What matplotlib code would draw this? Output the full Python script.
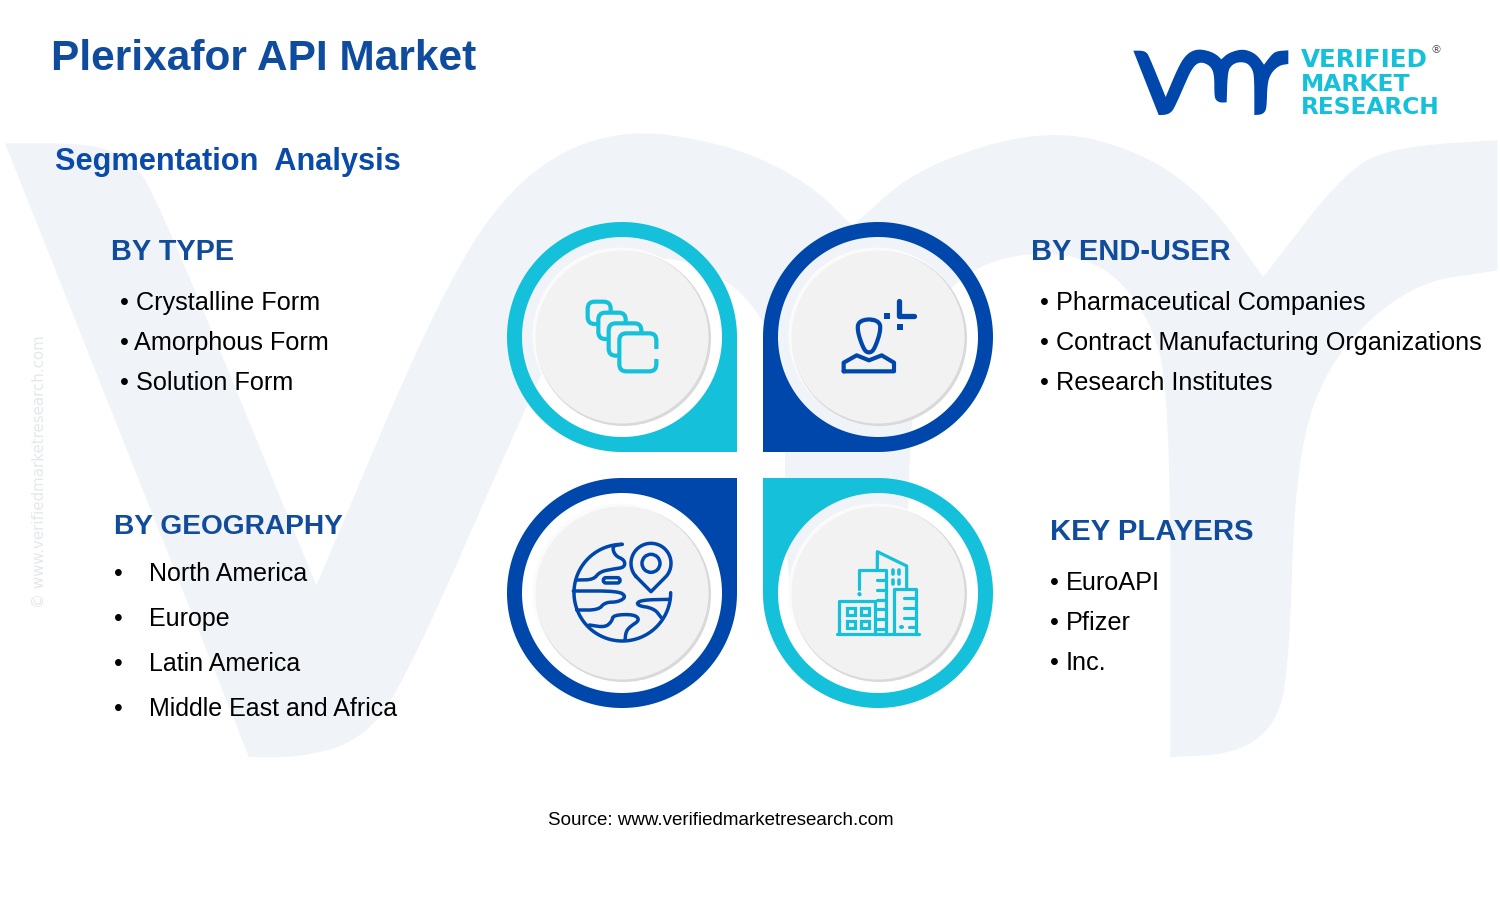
import numpy as np
import matplotlib
matplotlib.use("Agg")
import matplotlib.pyplot as plt
from matplotlib.path import Path
from matplotlib.patches import PathPatch, Circle, FancyBboxPatch, Polygon, Rectangle
from matplotlib.textpath import TextPath
from matplotlib.font_manager import FontProperties

# ---------- content ----------
TITLE = "Plerixafor API Market"
SUBTITLE = "Segmentation  Analysis"
SOURCE = "Source: www.verifiedmarketresearch.com"
COPYRIGHT = "© www.verifiedmarketresearch.com"
LOGO_LINES = ["VERIFIED", "MARKET", "RESEARCH"]
HEAD_TYPE = "BY TYPE"
HEAD_USER = "BY END-USER"
HEAD_GEO = "BY GEOGRAPHY"
HEAD_KEY = "KEY PLAYERS"
ITEMS_TYPE = ["Crystalline Form", "Amorphous Form", "Solution Form"]
ITEMS_USER = ["Pharmaceutical Companies", "Contract Manufacturing Organizations", "Research Institutes"]
ITEMS_GEO = ["North America", "Europe", "Latin America", "Middle East and Africa"]
ITEMS_KEY = ["EuroAPI", "Pfizer", "Inc."]

TEAL = "#14c0da"
BLUE = "#0047ab"
HEAD = "#114c9c"
PALE = "#f0f4f9"
GREY = "#f2f2f2"

fig = plt.figure(figsize=(15, 9.11), dpi=100, facecolor="white")
ax = fig.add_axes([0, 0, 1, 1])
ax.set_xlim(0, 1500)
ax.set_ylim(911, 0)
ax.axis("off")

SANS = "Liberation Sans"


def fit(s, px, weight="normal", family=SANS):
    fp = FontProperties(family=family, weight=weight)
    w = TextPath((0, 0), s, size=100, prop=fp).get_extents().width
    return 100 * px / w * 0.72


def chaikin(pts, n=2, closed=False):
    p = np.array(pts, float)
    for _ in range(n):
        q = np.roll(p, -1, axis=0) if closed else p[1:]
        a = p if closed else p[:-1]
        left = 0.75 * a + 0.25 * q
        right = 0.25 * a + 0.75 * q
        m = np.empty((len(a) * 2, 2))
        m[0::2], m[1::2] = left, right
        if not closed:
            m = np.vstack([p[0], m, p[-1]])
        p = m
    return p


# ---------- vmr mark (shared by the watermark and the logo), split at its sharp corners ----------
MARK_SECTIONS = [
    [(25, 32), (52, 32), (64, 37), (72, 48), (122, 171)],
    [(122, 171), (161, 78), (185, 42), (215, 27), (250, 32), (275, 44), (289, 58)],
    [(289, 58), (310, 39), (350, 27), (380, 35), (400, 50), (417, 74)],
    [(417, 74), (443, 40), (459, 33), (490, 31)],
    [(490, 31), (490, 72)],
    [(490, 72), (463, 76), (438, 99), (427, 131), (425, 200), (420, 216), (408, 224), (388, 225)],
    [(388, 225), (388, 110), (381, 85), (365, 68), (340, 66), (320, 75), (308, 95), (305, 187)],
    [(305, 187), (285, 188), (272, 180), (268, 165), (268, 105), (258, 80), (235, 67), (215, 70),
     (198, 92), (185, 120), (148, 205), (135, 220), (118, 225), (101, 225)],
    [(101, 225), (25, 32)],
]
mark = np.vstack([chaikin(sec, 3) for sec in MARK_SECTIONS])
wm = np.c_[5 + (mark[:, 0] - 25) * 3.21, 137 + (mark[:, 1] - 30) * 3.18]
ax.add_patch(Polygon(wm, closed=True, fc=PALE, ec="none", zorder=1))
lg = np.c_[1125 + mark[:, 0] / 3, 40 + mark[:, 1] / 3]
ax.add_patch(Polygon(lg, closed=True, fc=BLUE, ec="none", zorder=3))

logo_w = [126, 107, 135]
logo_y = [67, 91, 114]
for s, w, y in zip(LOGO_LINES, logo_w, logo_y):
    ax.text(1301, y, s, fontsize=fit(s, w, "bold", "DejaVu Sans"), family="DejaVu Sans", weight="bold",
            color=TEAL, va="baseline", ha="left", zorder=4)
ax.text(1436, 50, "®", fontsize=8, color="#555555", ha="center", va="center", zorder=4)


# ---------- pins ----------
def pin(cx, cy, sx, sy, color):
    R, r = 115, 100
    start = {(1, 1): 90, (-1, 1): 180, (-1, -1): 270, (1, -1): 0}[(sx, sy)]
    t = np.radians(np.linspace(start, start + 270, 240))
    outer = np.c_[cx + R * np.cos(t), cy + R * np.sin(t)]
    outer = np.vstack([outer, [cx + sx * R, cy + sy * R], outer[0]])
    t2 = np.radians(np.linspace(360, 0, 240))
    inner = np.c_[cx + r * np.cos(t2), cy + r * np.sin(t2)]
    verts = np.vstack([outer, inner])
    codes = ([Path.MOVETO] + [Path.LINETO] * (len(outer) - 1)
             + [Path.MOVETO] + [Path.LINETO] * (len(inner) - 1))
    ax.add_patch(PathPatch(Path(verts, codes), fc=color, ec="none", zorder=3))
    ax.add_patch(Circle((cx - 1.5, cy - 1.5), 88, fc="#fbfbfb", ec="none", zorder=3))
    ax.add_patch(Circle((cx + 1.5, cy + 1.5), 87.5, fc="#d9d9d9", ec="none", zorder=3))
    ax.add_patch(Circle((cx, cy), 86.5, fc=GREY, ec="none", zorder=3))


pin(622, 337, 1, 1, TEAL)
pin(878, 337, -1, 1, BLUE)
pin(622, 593, 1, -1, BLUE)
pin(878, 593, -1, -1, TEAL)


def stroke(pts, ox, oy, color, lw, closed=False, smooth=0):
    p = np.array(pts, float)
    if smooth:
        p = chaikin(p, smooth, closed=closed)
    p = np.c_[ox + p[:, 0] / 3, oy + p[:, 1] / 3]
    if closed:
        p = np.vstack([p, p[0]])
    ax.plot(p[:, 0], p[:, 1], color=color, lw=lw, solid_capstyle="round",
            solid_joinstyle="round", zorder=5)


# ---------- icon 1: stacked rounded squares ----------
ox, oy = 490, 210
for x0, y0, x1, y1 in [(293, 275, 362, 342), (325, 308, 407, 387), (356, 340, 454, 437), (388, 370, 499, 484)]:
    ax.add_patch(FancyBboxPatch((ox + x0 / 3, oy + y0 / 3), (x1 - x0) / 3, (y1 - y0) / 3,
                                boxstyle="round,pad=0,rounding_size=7", fc=GREY, ec=TEAL,
                                lw=3.0, zorder=5))
ax.add_patch(Rectangle((ox + 488 / 3, oy + 418 / 3), 8, 28 / 3, fc=GREY, ec="none", zorder=6))

# ---------- icon 2: person ----------
ox, oy = 750, 210
stroke([(357, 326), (390, 336), (391, 365), (378, 405), (366, 427), (348, 427), (336, 405),
        (323, 365), (324, 336)], ox, oy, BLUE, 3.0, closed=True, smooth=2)
stroke([(281, 484), (432, 484), (432, 458), (395, 436), (357, 451), (320, 436), (281, 458)],
       ox, oy, BLUE, 3.0, closed=True)
stroke([(447, 272), (447, 318), (493, 318)], ox, oy, BLUE, 3.8)
for x, y in [(403, 308), (440, 343)]:
    ax.add_patch(Rectangle((ox + x / 3, oy + y / 3), 6, 6, fc=BLUE, ec="none", zorder=5))

# ---------- icon 3: globe and location pin ----------
ox, oy = 490, 465
t = np.radians(np.linspace(90, 360, 120))
stroke(np.c_[397 + 145 * np.cos(t), 383 - 145 * np.sin(t)], ox, oy, BLUE, 2.5)
for line in [
    [(395, 238), (366, 243), (375, 272), (404, 285), (404, 307), (370, 312), (330, 320), (310, 344), (262, 345)],
    [(250, 378), (385, 378), (409, 395), (385, 411), (345, 412), (325, 435), (260, 435)],
    [(298, 480), (345, 487), (365, 470), (370, 450), (432, 448), (450, 465), (420, 485), (408, 500), (405, 525)],
    [(540, 403), (450, 405), (438, 421), (492, 430), (514, 458)],
]:
    stroke(line, ox, oy, BLUE, 2.5, smooth=2)
ax.add_patch(FancyBboxPatch((ox + 340 / 3, oy + 338 / 3), 50 / 3, 16 / 3,
                            boxstyle="round,pad=0,rounding_size=2.6", fc="none", ec=BLUE,
                            lw=2.5, zorder=5))
t = np.radians(np.linspace(140, 400, 80))
pin_pts = np.vstack([np.c_[483 + 60 * np.cos(t), 295 + 60 * np.sin(t)], [483, 380]])
stroke(pin_pts, ox, oy, BLUE, 2.5, closed=True)
ax.add_patch(Circle((ox + 483 / 3, oy + 295 / 3), 9, fc="none", ec=BLUE, lw=2.5, zorder=5))

# ---------- icon 4: buildings ----------
ox, oy = 750, 465
lw = 2.3
stroke([(262, 506), (507, 506)], ox, oy, TEAL, lw)
stroke([(268, 506), (268, 408), (375, 408), (375, 506)], ox, oy, TEAL, lw)
for x, y in [(291, 429), (333, 429), (291, 468), (333, 468)]:
    ax.add_patch(Rectangle((ox + x / 3, oy + y / 3), 7.5, 7, fc="none", ec=TEAL, lw=lw, zorder=5))
stroke([(328, 372), (328, 316), (408, 316), (408, 506)], ox, oy, TEAL, lw)
stroke([(328, 387), (329, 388)], ox, oy, TEAL, lw + 0.6)
for y in [345, 375, 405, 432, 462, 492]:
    stroke([(382, y), (408, y)], ox, oy, TEAL, lw)
stroke([(382, 316), (382, 260), (470, 303), (470, 372)], ox, oy, TEAL, lw)
for x in [428, 447]:
    for y in [[316, 328], [344, 356]]:
        stroke([(x, y[0]), (x, y[1])], ox, oy, TEAL, lw + 0.3)
stroke([(432, 506), (432, 373), (498, 373), (498, 506)], ox, oy, TEAL, lw)
for x0, y in [(462, 400), (462, 430), (462, 458), (476, 485)]:
    stroke([(x0, y), (498, y)], ox, oy, TEAL, lw)
stroke([(454, 485), (455, 485)], ox, oy, TEAL, lw + 0.6)

# ---------- text ----------
ax.text(51, 70, TITLE, family=SANS, weight="bold", color="#0f4c9e",
        fontsize=fit(TITLE, 422, "bold"), va="baseline", zorder=6)
ax.text(55, 170, SUBTITLE, family=SANS, weight="bold", color="#0a4aa8",
        fontsize=fit(SUBTITLE, 344, "bold"), va="baseline", zorder=6)
for s, x, y, w in [(HEAD_TYPE, 111, 260, 120), (HEAD_USER, 1031, 260, 197),
                   (HEAD_GEO, 114, 534, 227), (HEAD_KEY, 1050, 540, 200)]:
    ax.text(x, y, s, family=SANS, weight="bold", color=HEAD, fontsize=fit(s, w, "bold"),
            va="baseline", zorder=6)

item_fs = fit(ITEMS_USER[1], 423)
geo_fs = fit(ITEMS_GEO[3], 247)


def items(labels, bx, txs, ys, fs):
    for s, tx, y in zip(labels, txs, ys):
        ax.text(bx, y, "•", family=SANS, color="black", fontsize=fs, va="baseline", zorder=6)
        ax.text(tx, y, s, family=SANS, color="black", fontsize=fs, va="baseline", zorder=6)


items(ITEMS_TYPE, 120, [136, 134, 136], [310, 350, 390], item_fs)
items(ITEMS_USER, 1040, [1056] * 3, [310, 350, 390], item_fs)
items(ITEMS_GEO, 114, [149] * 4, [581, 626, 671, 716], geo_fs)
items(ITEMS_KEY, 1050, [1066] * 3, [590, 630, 670], item_fs)

ax.text(548, 825, SOURCE, family=SANS, color="black", fontsize=fit(SOURCE, 345), va="baseline", zorder=6)
ax.text(39, 472, COPYRIGHT, family="DejaVu Sans", color="#e4e7ec", rotation=90,
        fontsize=fit(COPYRIGHT, 269, family="DejaVu Sans"), ha="center", va="center", zorder=2)

fig.savefig("out.png", dpi=100, facecolor="white")
